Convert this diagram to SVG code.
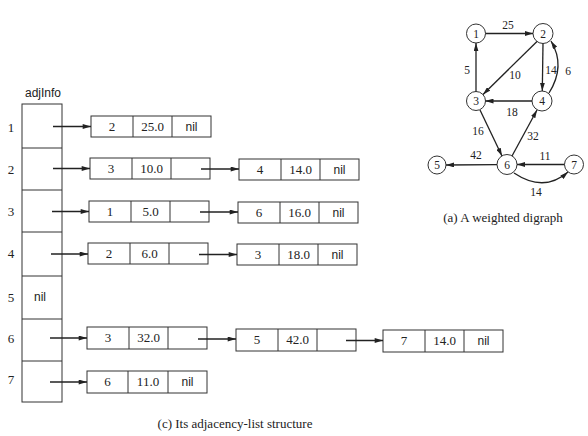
<svg xmlns="http://www.w3.org/2000/svg" width="588" height="436" viewBox="0 0 588 436">
<style>
.bx{fill:#fff;stroke:#333;stroke-width:1}
.dv{stroke:#333;stroke-width:1}
.num{font-family:"Liberation Serif","Times New Roman",serif;font-size:13px;fill:#222;text-anchor:middle}
.nil{font-family:"Liberation Sans",Arial,sans-serif;font-size:12px;fill:#222;text-anchor:middle}
.cap{font-family:"Liberation Serif","Times New Roman",serif;font-size:13px;fill:#222;text-anchor:middle}
.gl{font-family:"Liberation Serif","Times New Roman",serif;font-size:11.5px;fill:#222;text-anchor:middle}
.nd{fill:#fff;stroke:#333;stroke-width:1}
.e{fill:none;stroke:#222;stroke-width:1.3}
.p{fill:none;stroke:#222;stroke-width:1.4}
</style>
<defs>
<marker id="ah" viewBox="0 0 10 6" refX="10" refY="3" markerWidth="9" markerHeight="5" markerUnits="userSpaceOnUse" orient="auto"><path d="M0,0 L10,3 L0,6 z" fill="#222"/></marker>
<marker id="gh" viewBox="0 0 10 6" refX="10" refY="3" markerWidth="8" markerHeight="5" markerUnits="userSpaceOnUse" orient="auto"><path d="M0,0 L10,3 L0,6 z" fill="#222"/></marker>
</defs>
<rect width="588" height="436" fill="#fff"/>

<!-- adjacency column -->
<g id="adjInfo">
<text x="43" y="97" class="nil" style="font-size:12px">adjInfo</text>
<rect class="bx" x="22" y="104" width="40" height="298"/>
<line class="dv" x1="22" y1="148" x2="62" y2="148"/>
<line class="dv" x1="22" y1="190" x2="62" y2="190"/>
<line class="dv" x1="22" y1="232" x2="62" y2="232"/>
<line class="dv" x1="22" y1="276" x2="62" y2="276"/>
<line class="dv" x1="22" y1="319" x2="62" y2="319"/>
<line class="dv" x1="22" y1="361" x2="62" y2="361"/>
<text x="40" y="301" class="nil">nil</text>
<text x="11" y="132" class="num">1</text>
<text x="11" y="174" class="num">2</text>
<text x="11" y="216" class="num">3</text>
<text x="11" y="258" class="num">4</text>
<text x="11" y="302" class="num">5</text>
<text x="11" y="343" class="num">6</text>
<text x="11" y="384" class="num">7</text>
</g>

<!-- list entries -->
<g id="e1-2"><rect class="bx" x="91" y="116" width="120" height="21"/><line class="dv" x1="133" y1="116" x2="133" y2="137"/><line class="dv" x1="172" y1="116" x2="172" y2="137"/>
<text x="112" y="131" class="num">2</text><text x="152.5" y="131" class="num">25.0</text><text x="191.5" y="131" class="nil">nil</text></g>

<g id="e2-3"><rect class="bx" x="90" y="158" width="120" height="21"/><line class="dv" x1="132" y1="158" x2="132" y2="179"/><line class="dv" x1="171" y1="158" x2="171" y2="179"/>
<text x="111" y="173" class="num">3</text><text x="151.5" y="173" class="num">10.0</text></g>
<g id="e2-4"><rect class="bx" x="239" y="159" width="120" height="21"/><line class="dv" x1="281" y1="159" x2="281" y2="180"/><line class="dv" x1="320" y1="159" x2="320" y2="180"/>
<text x="260" y="174" class="num">4</text><text x="300.5" y="174" class="num">14.0</text><text x="339.5" y="174" class="nil">nil</text></g>

<g id="e3-1"><rect class="bx" x="89" y="201" width="120" height="21"/><line class="dv" x1="131" y1="201" x2="131" y2="222"/><line class="dv" x1="170" y1="201" x2="170" y2="222"/>
<text x="110" y="216" class="num">1</text><text x="150.5" y="216" class="num">5.0</text></g>
<g id="e3-6"><rect class="bx" x="238" y="202" width="120" height="21"/><line class="dv" x1="280" y1="202" x2="280" y2="223"/><line class="dv" x1="319" y1="202" x2="319" y2="223"/>
<text x="259" y="217" class="num">6</text><text x="299.5" y="217" class="num">16.0</text><text x="338.5" y="217" class="nil">nil</text></g>

<g id="e4-2"><rect class="bx" x="88" y="243" width="120" height="21"/><line class="dv" x1="130" y1="243" x2="130" y2="264"/><line class="dv" x1="169" y1="243" x2="169" y2="264"/>
<text x="109" y="258" class="num">2</text><text x="149.5" y="258" class="num">6.0</text></g>
<g id="e4-3"><rect class="bx" x="237" y="244" width="120" height="21"/><line class="dv" x1="279" y1="244" x2="279" y2="265"/><line class="dv" x1="318" y1="244" x2="318" y2="265"/>
<text x="258" y="259" class="num">3</text><text x="298.5" y="259" class="num">18.0</text><text x="337.5" y="259" class="nil">nil</text></g>

<g id="e6-3"><rect class="bx" x="87" y="327" width="120" height="22"/><line class="dv" x1="129" y1="327" x2="129" y2="349"/><line class="dv" x1="168" y1="327" x2="168" y2="349"/>
<text x="108" y="342" class="num">3</text><text x="148.5" y="342" class="num">32.0</text></g>
<g id="e6-5"><rect class="bx" x="236" y="329" width="120" height="22"/><line class="dv" x1="278" y1="329" x2="278" y2="351"/><line class="dv" x1="317" y1="329" x2="317" y2="351"/>
<text x="257" y="344" class="num">5</text><text x="297.5" y="344" class="num">42.0</text></g>
<g id="e6-7"><rect class="bx" x="383" y="330" width="120" height="22"/><line class="dv" x1="425" y1="330" x2="425" y2="352"/><line class="dv" x1="464" y1="330" x2="464" y2="352"/>
<text x="404" y="345" class="num">7</text><text x="444.5" y="345" class="num">14.0</text><text x="483.5" y="345" class="nil">nil</text></g>

<g id="e7-6"><rect class="bx" x="87" y="371" width="120" height="22"/><line class="dv" x1="128" y1="371" x2="128" y2="393"/><line class="dv" x1="168" y1="371" x2="168" y2="393"/>
<text x="107.5" y="386" class="num">6</text><text x="148" y="386" class="num">11.0</text><text x="187.5" y="386" class="nil">nil</text></g>

<!-- graph nodes -->
<g id="v1"><circle class="nd" cx="476" cy="33.5" r="9.5"/><text x="476" y="37.5" class="gl">1</text></g>
<g id="v2"><circle class="nd" cx="543" cy="33.5" r="10"/><text x="543" y="37.5" class="gl">2</text></g>
<g id="v3"><circle class="nd" cx="476" cy="101" r="9.5"/><text x="476" y="105" class="gl">3</text></g>
<g id="v4"><circle class="nd" cx="542" cy="101" r="10"/><text x="542" y="105" class="gl">4</text></g>
<g id="v5"><circle class="nd" cx="437" cy="165" r="9"/><text x="437" y="169" class="gl">5</text></g>
<g id="v6"><circle class="nd" cx="507" cy="164.5" r="10"/><text x="507" y="168.5" class="gl">6</text></g>
<g id="v7"><circle class="nd" cx="574" cy="164.5" r="9.5"/><text x="574" y="168.5" class="gl">7</text></g>

<!-- connectors -->
<g id="connectors">
<line class="p" x1="53" y1="126.5" x2="91" y2="126.5" marker-end="url(#ah)"/>
<line class="p" x1="53" y1="168.5" x2="90" y2="168.5" marker-end="url(#ah)"/>
<line class="p" x1="52" y1="211.5" x2="89" y2="211.5" marker-end="url(#ah)"/>
<line class="p" x1="51" y1="254" x2="88" y2="254" marker-end="url(#ah)"/>
<line class="p" x1="50" y1="338" x2="87" y2="338" marker-end="url(#ah)"/>
<line class="p" x1="50" y1="382" x2="87" y2="382" marker-end="url(#ah)"/>
<line class="p" x1="201" y1="169" x2="239" y2="169" marker-end="url(#ah)"/>
<line class="p" x1="200" y1="212" x2="238" y2="212" marker-end="url(#ah)"/>
<line class="p" x1="199" y1="254.5" x2="237" y2="254.5" marker-end="url(#ah)"/>
<line class="p" x1="198" y1="339" x2="236" y2="339" marker-end="url(#ah)"/>
<line class="p" x1="346" y1="340.5" x2="383" y2="340.5" marker-end="url(#ah)"/>

<line class="e" x1="485.5" y1="33.5" x2="533" y2="33.5" marker-end="url(#gh)"/>
<line class="e" x1="476" y1="91.5" x2="476" y2="43" marker-end="url(#gh)"/>
<line class="e" x1="537" y1="41.5" x2="483" y2="94.5" marker-end="url(#gh)"/>
<line class="e" x1="543" y1="43.5" x2="542.3" y2="91" marker-end="url(#gh)"/>
<path class="e" d="M549,93 Q566,66 551,41" marker-end="url(#gh)"/>
<line class="e" x1="532" y1="101" x2="485.5" y2="101" marker-end="url(#gh)"/>
<line class="e" x1="480" y1="110" x2="502" y2="156" marker-end="url(#gh)"/>
<line class="e" x1="512" y1="156" x2="537" y2="110" marker-end="url(#gh)"/>
<line class="e" x1="497" y1="164.7" x2="446" y2="165" marker-end="url(#gh)"/>
<line class="e" x1="564.5" y1="164.5" x2="517" y2="164.5" marker-end="url(#gh)"/>
<path class="e" d="M514,173 Q544,193 568,172" marker-end="url(#gh)"/>
</g>

<g id="edge-labels">
<text x="508" y="29" class="gl">25</text>
<text x="467" y="74" class="gl">5</text>
<text x="515" y="79" class="gl">10</text>
<text x="551" y="74" class="gl">14</text>
<text x="568" y="75" class="gl">6</text>
<text x="512" y="116" class="gl">18</text>
<text x="478" y="135" class="gl">16</text>
<text x="533" y="140" class="gl">32</text>
<text x="476" y="159" class="gl">42</text>
<text x="545" y="160" class="gl">11</text>
<text x="536" y="196" class="gl">14</text>
</g>

<text x="503" y="222" class="cap">(a) A weighted digraph</text>
<text x="235" y="428" class="cap">(c) Its adjacency-list structure</text>
</svg>
